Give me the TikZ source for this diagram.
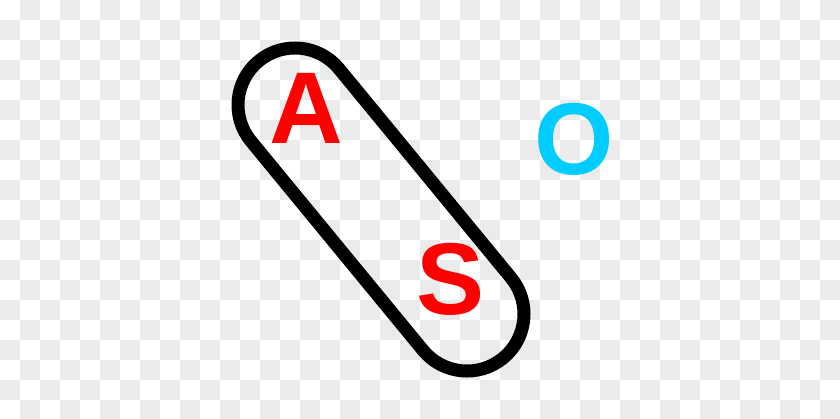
\documentclass[tikz,border=0pt]{standalone}
\usepackage{fontspec}
\setmainfont{Liberation Sans}
\usetikzlibrary{shapes}
\definecolor{checkgray}{RGB}{235,235,235}
\definecolor{letterred}{RGB}{255,0,0}
\definecolor{lettercyan}{RGB}{0,204,255}

\begin{document}
\begin{tikzpicture}[x=1pt, y=-1pt,
  letter/.style={font=\fontsize{102}{102}\selectfont\bfseries, inner sep=0pt, anchor=base},
  capsule/.style={draw=black, line width=13pt, rounded corners=57pt, minimum width=384.7pt, minimum height=114pt, inner sep=0pt}]
\useasboundingbox (0,0) rectangle (840,418);
% checkered background
\begin{scope}
\clip (0,0) rectangle (840,418);
\fill[white] (0,0) rectangle (840,418);
\foreach \i in {0,...,41}
  \foreach \j in {0,...,20}
    {\ifodd\numexpr\i+\j\relax \fill[checkgray] (20*\i,20*\j) rectangle ++(20,20); \fi}
\end{scope}
\node[capsule, rotate=-50.55] (bond) at (381,209.5) {};
\node[letter, text=letterred] (A) at (306,143.5) {A};
\node[letter, text=letterred] (S) at (450.5,314.5) {S};
\node[letter, text=lettercyan] (O) at (574,174) {O};
\end{tikzpicture}
\end{document}
